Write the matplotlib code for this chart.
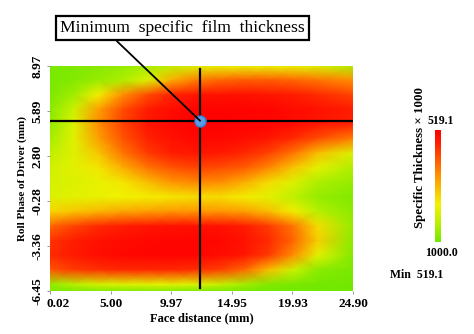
import numpy as np
import matplotlib
matplotlib.use("Agg")
import matplotlib.pyplot as plt
from matplotlib.colors import LinearSegmentedColormap, Normalize
import matplotlib.transforms as mtransforms
import matplotlib.cm as cm

# ---- data ----
x_vals = [0.02, 2, 4, 6, 8, 10, 12, 14, 16, 18, 20, 22, 24.90]
y_vals = [8.97, 8, 7, 6, 5, 4, 3, 2, 1, 0, -1, -2, -3, -4, -5, -6, -6.45]
thickness = [
    [990, 985, 975, 960, 940, 910, 870, 850, 850, 850, 850, 870, 930],
    [990, 980, 955, 930, 870, 750, 690, 660, 650, 650, 660, 680, 710],
    [985, 945, 830, 710, 630, 580, 560, 550, 550, 560, 570, 590, 620],
    [975, 890, 730, 630, 570, 540, 525, 525, 525, 530, 540, 550, 570],
    [965, 870, 710, 620, 560, 535, 522, 522, 525, 530, 540, 560, 580],
    [940, 860, 730, 640, 580, 550, 535, 535, 545, 560, 590, 630, 690],
    [910, 865, 780, 680, 610, 570, 560, 565, 585, 620, 680, 770, 870],
    [885, 860, 820, 750, 680, 640, 620, 630, 650, 700, 780, 860, 930],
    [880, 870, 850, 820, 770, 720, 700, 710, 750, 810, 870, 930, 960],
    [870, 860, 850, 840, 830, 820, 810, 810, 830, 860, 910, 960, 980],
    [800, 780, 760, 740, 730, 720, 720, 720, 730, 770, 830, 920, 970],
    [660, 620, 590, 570, 560, 550, 550, 550, 570, 610, 680, 810, 960],
    [600, 570, 550, 540, 535, 530, 530, 535, 550, 590, 660, 790, 970],
    [590, 565, 545, 535, 530, 525, 530, 540, 560, 610, 710, 860, 980],
    [640, 610, 595, 585, 585, 585, 595, 615, 665, 770, 890, 970, 990],
    [960, 920, 880, 870, 860, 860, 870, 900, 940, 980, 990, 995, 1000],
    [990, 985, 980, 980, 980, 980, 985, 990, 995, 1000, 1000, 1000, 1000],
]
x_ticks = [0.02, 5.00, 9.97, 14.95, 19.93, 24.90]
y_ticks = [-6.45, -3.36, -0.28, 2.80, 5.89, 8.97]
v_min, v_max = 519.1, 1000.0
min_x, min_y = 12.34, 5.22

W, H = 474, 334
fig = plt.figure(figsize=(W / 100, H / 100), dpi=100)
serif = ["Liberation Serif", "DejaVu Serif"]

cmap = LinearSegmentedColormap.from_list(
    "st", [(0.0, "#ff0000"), (0.12, "#ff2000"), (0.4, "#ff9000"),
           (0.66, "#f2f200"), (0.82, "#bef000"), (1.0, "#72e800")])
norm = Normalize(vmin=v_min, vmax=v_max)

ax = fig.add_axes([50 / W, (H - 291) / H, 303 / W, 225 / H])
X, Y = np.meshgrid(x_vals, y_vals)
ax.pcolormesh(X, Y, np.array(thickness), cmap=cmap, norm=norm, shading="gouraud")
ax.set_xlim(x_vals[0], x_vals[-1])
ax.set_ylim(y_vals[-1], y_vals[0])
for s in ax.spines.values():
    s.set_visible(False)
ax.set_xticks(x_ticks)
ax.set_xticklabels([f"{v:.2f}" for v in x_ticks], fontfamily=serif,
                   fontweight="bold", fontsize=9.5)
ax.set_yticks(y_ticks)
ax.set_yticklabels([f"{v:.2f}" for v in y_ticks], fontfamily=serif,
                   fontweight="bold", fontsize=9.5, rotation=90, va="center")
ax.tick_params(length=2, width=0.6, color="#888888", pad=3)
# first x label sits a little to the right of its tick, as in the reference
first = ax.get_xticklabels()[0]
first.set_transform(first.get_transform() +
                    mtransforms.ScaledTranslation(8 / 100, 0, fig.dpi_scale_trans))
ax.set_xlabel("Face distance (mm)", fontfamily=serif, fontweight="bold",
              fontsize=9, labelpad=2)
ax.set_ylabel("Roll Phase of Driver (mm)", fontfamily=serif, fontweight="bold",
              fontsize=8, labelpad=3)

# crosshair at minimum
ax.axhline(min_y, color="black", lw=1.6, zorder=3)
ax.axvline(min_x, ymin=0.013, ymax=0.987, color="black", lw=1.6, zorder=3)
ax.plot([min_x], [min_y], "o", ms=8, color="#5a9be6", mec="#3a7bd0", zorder=4)

# annotation
ax.annotate("Minimum  specific  film  thickness", xy=(min_x, min_y), xycoords="data",
            xytext=(182.5, H - 28), textcoords="figure pixels",
            ha="center", va="center", fontfamily=serif, fontsize=12.6,
            bbox=dict(boxstyle="square,pad=0.25", fc="white", ec="black", lw=1.6),
            arrowprops=dict(arrowstyle="-", relpos=(0.21, 0), shrinkA=0, shrinkB=0,
                            lw=1.3, color="black"), zorder=5)

# colorbar
cax = fig.add_axes([435 / W, (H - 242) / H, 6 / W, 112 / H])
cb = fig.colorbar(cm.ScalarMappable(norm=norm, cmap=cmap), cax=cax)
cb.outline.set_visible(False)
cax.invert_yaxis()
cax.set_yticks([])
fig.text(441 / W, (H - 121) / H, f"{v_min:.1f}", ha="center", va="center",
         fontfamily=serif, fontweight="bold", fontsize=8.5)
fig.text(441 / W, (H - 253) / H, f"{v_max:.1f}", ha="center", va="center",
         fontfamily=serif, fontweight="bold", fontsize=8.5)
fig.text(420 / W, (H - 158) / H, "Specific Thickness × 1000", rotation=90,
         ha="center", va="center", fontfamily=serif, fontweight="bold", fontsize=9.3)
fig.text(417 / W, (H - 275) / H, f"Min  {v_min:.1f}", ha="center", va="center",
         fontfamily=serif, fontweight="bold", fontsize=8.5)

fig.savefig("out.png", dpi=100, facecolor="white")
